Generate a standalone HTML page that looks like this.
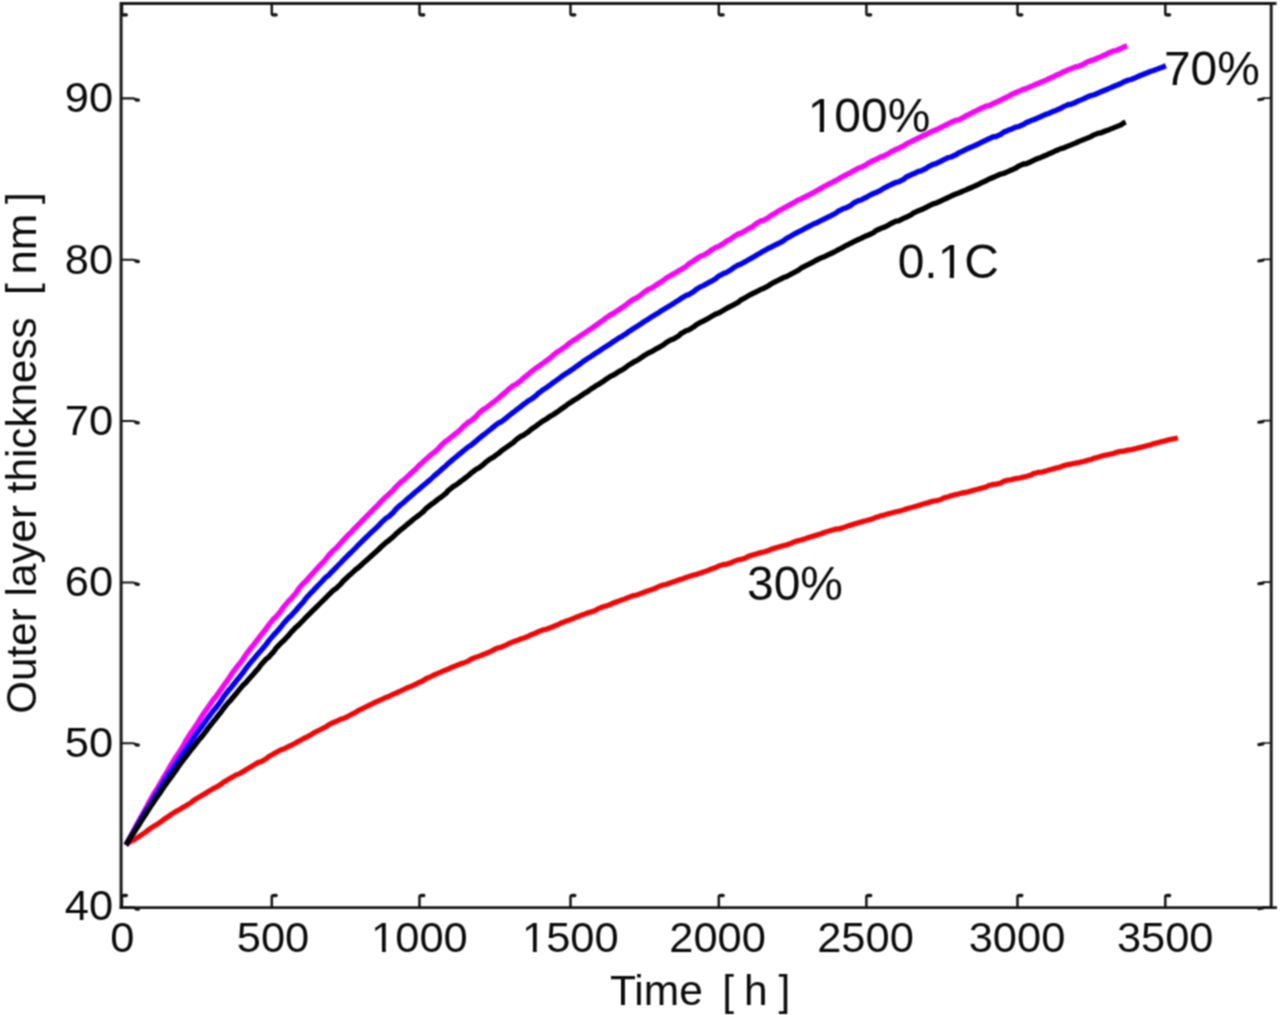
<!DOCTYPE html>
<html lang="en"><head><meta charset="utf-8"><title>Outer layer thickness vs time</title>
<style>html,body{margin:0;padding:0;background:#fff}body{width:1280px;height:1015px;overflow:hidden}svg{display:block}text{font-family:"Liberation Sans",Arial,Helvetica,sans-serif;fill:#0c0c0c}</style></head><body>
<svg width="1280" height="1015" viewBox="0 0 1280 1015">
<defs><filter id="soft" x="0" y="0" width="1280" height="1015" filterUnits="userSpaceOnUse" color-interpolation-filters="sRGB"><feConvolveMatrix order="3" kernelMatrix="1 2 1 2 4 2 1 2 1" divisor="16" edgeMode="duplicate" preserveAlpha="false"/></filter></defs>
<g filter="url(#soft)">
<rect width="1280" height="1015" fill="#fff"/>
<g stroke="#1a1a1a" fill="none" stroke-linecap="butt">
<path stroke-width="3" d="M121.1,908.85 V3.6 H1276.5"/>
<path stroke-width="2.6" d="M119.6,907.6 H1277"/>
<path stroke-width="2.9" d="M1271.2,3.6 V908.85"/>
</g>
<g stroke="#151515" fill="none" stroke-linecap="round" stroke-linejoin="round">
<path stroke-width="2.5" d="M122.0,907.6 V896.8 q0,-1.6 1.6,-1.6 h2.7"/>
<path stroke-width="3.3" d="M123.9,895.5 h2.4"/>
<path stroke-width="2.5" d="M122.0,3.6 V13.4 q0,1.6 1.6,1.6 h2.7"/>
<path stroke-width="3.3" d="M123.9,14.8 h2.4"/>
<path stroke-width="2.5" d="M271.8,907.6 V896.8 q0,-1.6 1.6,-1.6 h2.7"/>
<path stroke-width="3.3" d="M273.7,895.5 h2.4"/>
<path stroke-width="2.5" d="M271.8,3.6 V13.4 q0,1.6 1.6,1.6 h2.7"/>
<path stroke-width="3.3" d="M273.7,14.8 h2.4"/>
<path stroke-width="2.5" d="M419.5,907.6 V896.8 q0,-1.6 1.6,-1.6 h2.7"/>
<path stroke-width="3.3" d="M421.4,895.5 h2.4"/>
<path stroke-width="2.5" d="M419.5,3.6 V13.4 q0,1.6 1.6,1.6 h2.7"/>
<path stroke-width="3.3" d="M421.4,14.8 h2.4"/>
<path stroke-width="2.5" d="M570.5,907.6 V896.8 q0,-1.6 1.6,-1.6 h2.7"/>
<path stroke-width="3.3" d="M572.4,895.5 h2.4"/>
<path stroke-width="2.5" d="M570.5,3.6 V13.4 q0,1.6 1.6,1.6 h2.7"/>
<path stroke-width="3.3" d="M572.4,14.8 h2.4"/>
<path stroke-width="2.5" d="M718.8,907.6 V896.8 q0,-1.6 1.6,-1.6 h2.7"/>
<path stroke-width="3.3" d="M720.7,895.5 h2.4"/>
<path stroke-width="2.5" d="M718.8,3.6 V13.4 q0,1.6 1.6,1.6 h2.7"/>
<path stroke-width="3.3" d="M720.7,14.8 h2.4"/>
<path stroke-width="2.5" d="M866.4,907.6 V896.8 q0,-1.6 1.6,-1.6 h2.7"/>
<path stroke-width="3.3" d="M868.3,895.5 h2.4"/>
<path stroke-width="2.5" d="M866.4,3.6 V13.4 q0,1.6 1.6,1.6 h2.7"/>
<path stroke-width="3.3" d="M868.3,14.8 h2.4"/>
<path stroke-width="2.5" d="M1017.5,907.6 V896.8 q0,-1.6 1.6,-1.6 h2.7"/>
<path stroke-width="3.3" d="M1019.4,895.5 h2.4"/>
<path stroke-width="2.5" d="M1017.5,3.6 V13.4 q0,1.6 1.6,1.6 h2.7"/>
<path stroke-width="3.3" d="M1019.4,14.8 h2.4"/>
<path stroke-width="2.5" d="M1165.3,907.6 V896.8 q0,-1.6 1.6,-1.6 h2.7"/>
<path stroke-width="3.3" d="M1167.2,895.5 h2.4"/>
<path stroke-width="2.5" d="M1165.3,3.6 V13.4 q0,1.6 1.6,1.6 h2.7"/>
<path stroke-width="3.3" d="M1167.2,14.8 h2.4"/>
<path stroke-width="2.1" d="M121.1,98.4 H132.8 q2,0 2.9,1 l2.6,0.7"/>
<path stroke-width="3.3" d="M136,99.9 l2.3,0.3"/>
<path stroke-width="1.7" d="M1271.2,98.1 H1263.4"/>
<path stroke-width="3.1" d="M1263,99.0 L1258.8,99.7"/>
<path stroke-width="2.1" d="M121.1,259.7 H132.8 q2,0 2.9,1 l2.6,0.7"/>
<path stroke-width="3.3" d="M136,261.2 l2.3,0.3"/>
<path stroke-width="1.7" d="M1271.2,259.4 H1263.4"/>
<path stroke-width="3.1" d="M1263,260.3 L1258.8,261.0"/>
<path stroke-width="2.1" d="M121.1,421.0 H132.8 q2,0 2.9,1 l2.6,0.7"/>
<path stroke-width="3.3" d="M136,422.5 l2.3,0.3"/>
<path stroke-width="1.7" d="M1271.2,420.7 H1263.4"/>
<path stroke-width="3.1" d="M1263,421.6 L1258.8,422.3"/>
<path stroke-width="2.1" d="M121.1,582.5 H132.8 q2,0 2.9,1 l2.6,0.7"/>
<path stroke-width="3.3" d="M136,584.0 l2.3,0.3"/>
<path stroke-width="1.7" d="M1271.2,582.2 H1263.4"/>
<path stroke-width="3.1" d="M1263,583.1 L1258.8,583.8"/>
<path stroke-width="2.1" d="M121.1,743.3 H132.8 q2,0 2.9,1 l2.6,0.7"/>
<path stroke-width="3.3" d="M136,744.8 l2.3,0.3"/>
<path stroke-width="1.7" d="M1271.2,743.0 H1263.4"/>
<path stroke-width="3.1" d="M1263,743.9 L1258.8,744.6"/>
<path stroke-width="2.1" d="M121.1,907.4 H132.8 q2,0 2.9,1 l2.6,0.7"/>
<path stroke-width="3.3" d="M136,908.9 l2.3,0.3"/>
<path stroke-width="1.7" d="M1271.2,907.1 H1263.4"/>
<path stroke-width="3.1" d="M1263,908.0 L1258.8,908.7"/>
</g>
<g fill="none" stroke-linecap="butt" stroke-linejoin="round">
<path stroke="#ff0000" stroke-width="5.1" d="M126.0,845.0 L128.5,842.9 L131.0,841.2 L133.5,840.2 L136.0,838.5 L138.5,836.8 L141.0,835.2 L143.5,833.5 L146.0,831.8 L148.5,829.7 L151.0,828.0 L153.5,826.3 L156.0,825.0 L158.5,823.3 L161.0,821.7 L163.5,819.6 L166.0,818.0 L168.5,816.4 L171.0,814.5 L173.5,812.9 L176.0,811.3 L178.5,810.2 L181.0,808.6 L183.5,807.0 L186.0,805.7 L188.5,804.1 L191.0,802.6 L193.5,800.5 L196.0,798.9 L198.5,797.4 L201.0,796.0 L203.5,794.5 L206.0,793.0 L208.5,791.4 L211.0,789.9 L213.5,788.4 L216.0,787.2 L218.5,785.8 L221.0,784.3 L223.5,782.2 L226.0,780.7 L228.5,779.3 L231.0,777.8 L233.5,776.4 L236.0,774.9 L238.5,774.1 L241.0,772.7 L243.5,771.3 L246.0,769.6 L248.5,768.2 L251.0,766.8 L253.5,765.1 L256.0,763.7 L258.5,762.3 L261.0,761.7 L263.5,760.3 L266.0,758.9 L268.5,756.8 L271.0,755.4 L273.5,754.0 L276.0,752.4 L278.5,751.1 L281.0,749.7 L283.5,749.1 L286.0,747.7 L288.5,746.4 L291.0,745.4 L293.5,744.1 L296.0,742.7 L298.5,741.2 L301.0,739.9 L303.5,738.6 L306.0,737.4 L308.5,736.1 L311.0,734.8 L313.5,733.0 L316.0,731.7 L318.5,730.5 L321.0,729.3 L323.5,728.0 L326.0,726.7 L328.5,724.9 L331.0,723.6 L333.5,722.4 L336.0,721.5 L338.5,720.2 L341.0,719.0 L343.5,718.5 L346.0,717.2 L348.5,716.0 L351.0,714.6 L353.5,713.4 L356.0,712.1 L358.5,710.4 L361.0,709.2 L363.5,708.0 L366.0,706.8 L368.5,705.6 L371.0,704.4 L373.5,703.1 L376.0,701.9 L378.5,700.8 L381.0,699.7 L383.5,698.5 L386.0,697.4 L388.5,696.5 L391.0,695.3 L393.5,694.1 L396.0,693.1 L398.5,691.9 L401.0,690.7 L403.5,689.5 L406.0,688.4 L408.5,687.2 L411.0,686.4 L413.5,685.2 L416.0,684.1 L418.5,682.7 L421.0,681.6 L423.5,680.4 L426.0,678.7 L428.5,677.6 L431.0,676.5 L433.5,675.2 L436.0,674.1 L438.5,673.0 L441.0,672.0 L443.5,670.9 L446.0,669.8 L448.5,668.8 L451.0,667.7 L453.5,666.6 L456.0,665.7 L458.5,664.7 L461.0,663.6 L463.5,663.0 L466.0,662.0 L468.5,660.9 L471.0,659.2 L473.5,658.2 L476.0,657.1 L478.5,656.4 L481.0,655.4 L483.5,654.3 L486.0,653.4 L488.5,652.4 L491.0,651.4 L493.5,649.8 L496.0,648.7 L498.5,647.7 L501.0,647.2 L503.5,646.2 L506.0,645.1 L508.5,643.7 L511.0,642.6 L513.5,641.6 L516.0,640.8 L518.5,639.8 L521.0,638.8 L523.5,638.1 L526.0,637.1 L528.5,636.1 L531.0,634.8 L533.5,633.8 L536.0,632.8 L538.5,631.6 L541.0,630.7 L543.5,629.7 L546.0,629.3 L548.5,628.3 L551.0,627.3 L553.5,626.4 L556.0,625.4 L558.5,624.4 L561.0,623.0 L563.5,622.1 L566.0,621.1 L568.5,620.3 L571.0,619.4 L573.5,618.4 L576.0,617.2 L578.5,616.3 L581.0,615.3 L583.5,614.5 L586.0,613.5 L588.5,612.6 L591.0,612.0 L593.5,611.1 L596.0,610.1 L598.5,608.5 L601.0,607.5 L603.5,606.6 L606.0,606.0 L608.5,605.1 L611.0,604.1 L613.5,602.9 L616.0,602.0 L618.5,601.1 L621.0,600.2 L623.5,599.3 L626.0,598.4 L628.5,597.3 L631.0,596.4 L633.5,595.5 L636.0,595.2 L638.5,594.3 L641.0,593.4 L643.5,592.4 L646.0,591.5 L648.5,590.6 L651.0,589.8 L653.5,588.9 L656.0,588.0 L658.5,586.6 L661.0,585.7 L663.5,584.8 L666.0,584.4 L668.5,583.5 L671.0,582.6 L673.5,581.8 L676.0,580.9 L678.5,580.0 L681.0,579.2 L683.5,578.4 L686.0,577.5 L688.5,576.6 L691.0,575.8 L693.5,574.9 L696.0,574.5 L698.5,573.6 L701.0,572.8 L703.5,571.9 L706.0,571.1 L708.5,570.2 L711.0,569.1 L713.5,568.2 L716.0,567.4 L718.5,566.1 L721.0,565.3 L723.5,564.4 L726.0,564.4 L728.5,563.5 L731.0,562.7 L733.5,561.4 L736.0,560.6 L738.5,559.7 L741.0,559.4 L743.5,558.6 L746.0,557.8 L748.5,556.3 L751.0,555.5 L753.5,554.7 L756.0,554.1 L758.5,553.3 L761.0,552.5 L763.5,552.1 L766.0,551.3 L768.5,550.5 L771.0,549.3 L773.5,548.5 L776.0,547.7 L778.5,547.1 L781.0,546.3 L783.5,545.6 L786.0,545.0 L788.5,544.2 L791.0,543.4 L793.5,542.1 L796.0,541.3 L798.5,540.5 L801.0,540.0 L803.5,539.2 L806.0,538.4 L808.5,537.5 L811.0,536.8 L813.5,536.0 L816.0,535.3 L818.5,534.5 L821.0,533.8 L823.5,532.7 L826.0,531.9 L828.5,531.1 L831.0,530.4 L833.5,529.7 L836.0,528.9 L838.5,529.0 L841.0,528.2 L843.5,527.5 L846.0,526.5 L848.5,525.8 L851.0,525.0 L853.5,524.2 L856.0,523.4 L858.5,522.7 L861.0,522.0 L863.5,521.3 L866.0,520.6 L868.5,519.9 L871.0,519.2 L873.5,518.4 L876.0,517.3 L878.5,516.6 L881.0,515.8 L883.5,515.2 L886.0,514.4 L888.5,513.7 L891.0,513.1 L893.5,512.4 L896.0,511.7 L898.5,511.3 L901.0,510.6 L903.5,509.9 L906.0,509.0 L908.5,508.3 L911.0,507.6 L913.5,506.9 L916.0,506.2 L918.5,505.5 L921.0,504.6 L923.5,503.9 L926.0,503.2 L928.5,502.5 L931.0,501.7 L933.5,501.0 L936.0,500.8 L938.5,500.1 L941.0,499.4 L943.5,498.0 L946.0,497.3 L948.5,496.6 L951.0,495.8 L953.5,495.1 L956.0,494.5 L958.5,493.9 L961.0,493.2 L963.5,492.6 L966.0,492.4 L968.5,491.7 L971.0,491.0 L973.5,490.3 L976.0,489.6 L978.5,488.9 L981.0,488.3 L983.5,487.6 L986.0,487.0 L988.5,485.6 L991.0,485.0 L993.5,484.3 L996.0,484.2 L998.5,483.6 L1001.0,482.9 L1003.5,481.3 L1006.0,480.6 L1008.5,480.0 L1011.0,479.7 L1013.5,479.0 L1016.0,478.4 L1018.5,478.3 L1021.0,477.6 L1023.5,477.0 L1026.0,476.4 L1028.5,475.7 L1031.0,475.1 L1033.5,473.5 L1036.0,472.9 L1038.5,472.2 L1041.0,472.3 L1043.5,471.6 L1046.0,471.0 L1048.5,470.0 L1051.0,469.4 L1053.5,468.7 L1056.0,468.1 L1058.5,467.5 L1061.0,466.8 L1063.5,465.7 L1066.0,465.0 L1068.5,464.4 L1071.0,464.1 L1073.5,463.5 L1076.0,462.9 L1078.5,462.7 L1081.0,462.0 L1083.5,461.4 L1086.0,460.7 L1088.5,460.1 L1091.0,459.5 L1093.5,458.3 L1096.0,457.7 L1098.5,457.1 L1101.0,456.2 L1103.5,455.6 L1106.0,455.0 L1108.5,454.6 L1111.0,454.0 L1113.5,453.4 L1116.0,452.5 L1118.5,451.8 L1121.0,451.2 L1123.5,451.1 L1126.0,450.5 L1128.5,449.9 L1131.0,449.7 L1133.5,449.1 L1136.0,448.5 L1138.5,447.8 L1141.0,447.2 L1143.5,446.6 L1146.0,445.9 L1148.5,445.3 L1151.0,444.7 L1153.5,443.7 L1156.0,443.1 L1158.5,442.5 L1161.0,441.8 L1163.5,441.2 L1166.0,440.6 L1168.5,439.8 L1171.0,439.3 L1173.5,438.7 L1176.0,438.3 L1177.9,437.9"/>
<path stroke="#ff00ff" stroke-width="5.3" d="M126.0,845.0 L128.5,840.3 L131.0,835.6 L133.5,830.7 L136.0,826.1 L138.5,821.5 L141.0,817.1 L143.5,812.6 L146.0,808.1 L148.5,803.1 L151.0,798.7 L153.5,794.3 L156.0,790.6 L158.5,786.3 L161.0,782.0 L163.5,777.7 L166.0,773.5 L168.5,769.3 L171.0,764.8 L173.5,760.8 L176.0,756.7 L178.5,753.3 L181.0,749.3 L183.5,745.4 L186.0,740.5 L188.5,736.6 L191.0,732.7 L193.5,729.2 L196.0,725.4 L198.5,721.6 L201.0,717.4 L203.5,713.7 L206.0,710.0 L208.5,706.6 L211.0,702.9 L213.5,699.3 L216.0,696.5 L218.5,692.9 L221.0,689.4 L223.5,685.8 L226.0,682.3 L228.5,678.8 L231.0,674.8 L233.5,671.4 L236.0,668.0 L238.5,665.1 L241.0,661.8 L243.5,658.4 L246.0,654.4 L248.5,651.1 L251.0,647.8 L253.5,644.9 L256.0,641.7 L258.5,638.4 L261.0,635.1 L263.5,632.0 L266.0,628.8 L268.5,625.2 L271.0,622.1 L273.5,619.0 L276.0,616.9 L278.5,613.9 L281.0,610.8 L283.5,607.1 L286.0,604.1 L288.5,601.1 L291.0,598.7 L293.5,595.8 L296.0,592.9 L298.5,589.0 L301.0,586.1 L303.5,583.3 L306.0,581.0 L308.5,578.1 L311.0,575.3 L313.5,572.5 L316.0,569.7 L318.5,566.9 L321.0,564.4 L323.5,561.7 L326.0,558.9 L328.5,555.6 L331.0,552.9 L333.5,550.2 L336.0,548.2 L338.5,545.5 L341.0,542.8 L343.5,540.0 L346.0,537.3 L348.5,534.7 L351.0,532.3 L353.5,529.7 L356.0,527.1 L358.5,524.5 L361.0,522.0 L363.5,519.4 L366.0,516.9 L368.5,514.4 L371.0,511.9 L373.5,509.2 L376.0,506.8 L378.5,504.3 L381.0,501.6 L383.5,499.2 L386.0,496.7 L388.5,494.6 L391.0,492.2 L393.5,489.8 L396.0,486.8 L398.5,484.4 L401.0,482.0 L403.5,480.3 L406.0,477.9 L408.5,475.6 L411.0,473.3 L413.5,471.0 L416.0,468.7 L418.5,466.0 L421.0,463.7 L423.5,461.4 L426.0,459.1 L428.5,456.9 L431.0,454.6 L433.5,452.9 L436.0,450.7 L438.5,448.5 L441.0,445.5 L443.5,443.3 L446.0,441.1 L448.5,439.5 L451.0,437.3 L453.5,435.2 L456.0,433.4 L458.5,431.2 L461.0,429.1 L463.5,426.3 L466.0,424.2 L468.5,422.1 L471.0,420.7 L473.5,418.6 L476.0,416.6 L478.5,413.5 L481.0,411.4 L483.5,409.4 L486.0,408.0 L488.5,406.0 L491.0,404.0 L493.5,402.2 L496.0,400.2 L498.5,398.2 L501.0,395.9 L503.5,393.9 L506.0,391.9 L508.5,389.3 L511.0,387.3 L513.5,385.4 L516.0,384.4 L518.5,382.4 L521.0,380.5 L523.5,378.1 L526.0,376.1 L528.5,374.2 L531.0,371.9 L533.5,370.0 L536.0,368.1 L538.5,366.6 L541.0,364.7 L543.5,362.9 L546.0,361.0 L548.5,359.2 L551.0,357.3 L553.5,354.9 L556.0,353.0 L558.5,351.2 L561.0,349.7 L563.5,347.9 L566.0,346.1 L568.5,344.0 L571.0,342.2 L573.5,340.4 L576.0,339.0 L578.5,337.2 L581.0,335.4 L583.5,333.8 L586.0,332.1 L588.5,330.3 L591.0,328.8 L593.5,327.0 L596.0,325.3 L598.5,323.4 L601.0,321.6 L603.5,319.9 L606.0,317.9 L608.5,316.2 L611.0,314.5 L613.5,313.3 L616.0,311.6 L618.5,310.0 L621.0,308.3 L623.5,306.6 L626.0,305.0 L628.5,302.6 L631.0,300.9 L633.5,299.3 L636.0,298.2 L638.5,296.6 L641.0,294.9 L643.5,292.6 L646.0,290.9 L648.5,289.3 L651.0,288.4 L653.5,286.8 L656.0,285.1 L658.5,283.5 L661.0,281.9 L663.5,280.3 L666.0,278.3 L668.5,276.8 L671.0,275.2 L673.5,274.0 L676.0,272.4 L678.5,270.9 L681.0,269.5 L683.5,267.9 L686.0,266.4 L688.5,264.1 L691.0,262.5 L693.5,261.0 L696.0,259.2 L698.5,257.6 L701.0,256.1 L703.5,255.3 L706.0,253.8 L708.5,252.3 L711.0,250.2 L713.5,248.7 L716.0,247.2 L718.5,246.4 L721.0,244.9 L723.5,243.5 L726.0,241.6 L728.5,240.1 L731.0,238.7 L733.5,236.7 L736.0,235.3 L738.5,233.8 L741.0,233.1 L743.5,231.7 L746.0,230.2 L748.5,228.8 L751.0,227.4 L753.5,225.9 L756.0,223.8 L758.5,222.3 L761.0,220.9 L763.5,220.3 L766.0,218.9 L768.5,217.4 L771.0,215.5 L773.5,214.1 L776.0,212.7 L778.5,211.0 L781.0,209.6 L783.5,208.2 L786.0,206.9 L788.5,205.5 L791.0,204.1 L793.5,202.7 L796.0,201.3 L798.5,199.9 L801.0,199.0 L803.5,197.6 L806.0,196.3 L808.5,195.2 L811.0,193.9 L813.5,192.5 L816.0,191.1 L818.5,189.7 L821.0,188.4 L823.5,186.8 L826.0,185.5 L828.5,184.2 L831.0,183.0 L833.5,181.7 L836.0,180.4 L838.5,178.9 L841.0,177.5 L843.5,176.2 L846.0,174.9 L848.5,173.6 L851.0,172.3 L853.5,170.8 L856.0,169.5 L858.5,168.2 L861.0,167.3 L863.5,166.0 L866.0,164.8 L868.5,163.0 L871.0,161.7 L873.5,160.5 L876.0,159.3 L878.5,158.1 L881.0,156.8 L883.5,156.1 L886.0,154.8 L888.5,153.6 L891.0,151.8 L893.5,150.6 L896.0,149.3 L898.5,148.4 L901.0,147.1 L903.5,145.9 L906.0,144.2 L908.5,142.9 L911.0,141.7 L913.5,140.4 L916.0,139.2 L918.5,138.0 L921.0,136.7 L923.5,135.5 L926.0,134.3 L928.5,133.1 L931.0,131.9 L933.5,130.7 L936.0,129.8 L938.5,128.6 L941.0,127.4 L943.5,126.1 L946.0,124.9 L948.5,123.7 L951.0,122.4 L953.5,121.3 L956.0,120.1 L958.5,119.8 L961.0,118.6 L963.5,117.4 L966.0,115.8 L968.5,114.7 L971.0,113.5 L973.5,112.0 L976.0,110.9 L978.5,109.7 L981.0,108.4 L983.5,107.3 L986.0,106.1 L988.5,105.7 L991.0,104.6 L993.5,103.4 L996.0,102.3 L998.5,101.1 L1001.0,100.0 L1003.5,98.6 L1006.0,97.5 L1008.5,96.4 L1011.0,94.7 L1013.5,93.6 L1016.0,92.5 L1018.5,91.6 L1021.0,90.4 L1023.5,89.3 L1026.0,88.6 L1028.5,87.5 L1031.0,86.4 L1033.5,85.4 L1036.0,84.3 L1038.5,83.2 L1041.0,82.2 L1043.5,81.1 L1046.0,80.1 L1048.5,78.9 L1051.0,77.8 L1053.5,76.7 L1056.0,75.2 L1058.5,74.2 L1061.0,73.1 L1063.5,71.7 L1066.0,70.7 L1068.5,69.6 L1071.0,68.7 L1073.5,67.6 L1076.0,66.6 L1078.5,66.3 L1081.0,65.3 L1083.5,64.2 L1086.0,62.6 L1088.5,61.5 L1091.0,60.5 L1093.5,59.7 L1096.0,58.7 L1098.5,57.6 L1101.0,56.6 L1103.5,55.5 L1106.0,54.5 L1108.5,53.0 L1111.0,52.0 L1113.5,50.9 L1116.0,50.5 L1118.5,49.5 L1121.0,48.4 L1123.5,47.3 L1126.0,46.2 L1127.3,45.7"/>
<path stroke="#0000ff" stroke-width="5.3" d="M126.0,845.0 L128.5,840.9 L131.0,836.5 L133.5,832.0 L136.0,827.8 L138.5,823.5 L141.0,819.0 L143.5,814.9 L146.0,810.7 L148.5,807.1 L151.0,803.1 L153.5,799.0 L156.0,794.7 L158.5,790.8 L161.0,786.8 L163.5,782.5 L166.0,778.6 L168.5,774.8 L171.0,771.2 L173.5,767.4 L176.0,763.7 L178.5,759.9 L181.0,756.2 L183.5,752.6 L186.0,748.8 L188.5,745.2 L191.0,741.6 L193.5,737.7 L196.0,734.2 L198.5,730.7 L201.0,727.5 L203.5,724.0 L206.0,720.5 L208.5,717.1 L211.0,713.7 L213.5,710.4 L216.0,707.6 L218.5,704.2 L221.0,700.9 L223.5,696.9 L226.0,693.6 L228.5,690.4 L231.0,687.7 L233.5,684.5 L236.0,681.3 L238.5,678.3 L241.0,675.1 L243.5,672.0 L246.0,668.3 L248.5,665.2 L251.0,662.1 L253.5,659.3 L256.0,656.3 L258.5,653.3 L261.0,650.5 L263.5,647.6 L266.0,644.6 L268.5,641.1 L271.0,638.1 L273.5,635.2 L276.0,632.6 L278.5,629.7 L281.0,626.8 L283.5,623.5 L286.0,620.7 L288.5,617.9 L291.0,615.8 L293.5,613.0 L296.0,610.2 L298.5,607.2 L301.0,604.4 L303.5,601.7 L306.0,598.2 L308.5,595.5 L311.0,592.8 L313.5,590.3 L316.0,587.6 L318.5,585.0 L321.0,582.5 L323.5,579.8 L326.0,577.2 L328.5,575.3 L331.0,572.7 L333.5,570.2 L336.0,567.6 L338.5,565.0 L341.0,562.5 L343.5,559.8 L346.0,557.3 L348.5,554.8 L351.0,552.5 L353.5,550.0 L356.0,547.5 L358.5,544.8 L361.0,542.4 L363.5,539.9 L366.0,537.5 L368.5,535.1 L371.0,532.7 L373.5,530.4 L376.0,528.1 L378.5,525.7 L381.0,522.9 L383.5,520.6 L386.0,518.2 L388.5,516.8 L391.0,514.5 L393.5,512.2 L396.0,509.0 L398.5,506.7 L401.0,504.5 L403.5,502.6 L406.0,500.3 L408.5,498.1 L411.0,495.9 L413.5,493.7 L416.0,491.5 L418.5,489.6 L421.0,487.4 L423.5,485.3 L426.0,483.3 L428.5,481.1 L431.0,479.0 L433.5,476.5 L436.0,474.4 L438.5,472.3 L441.0,469.9 L443.5,467.7 L446.0,465.7 L448.5,463.2 L451.0,461.1 L453.5,459.0 L456.0,457.0 L458.5,454.9 L461.0,452.9 L463.5,450.8 L466.0,448.7 L468.5,446.7 L471.0,445.2 L473.5,443.1 L476.0,441.1 L478.5,438.9 L481.0,436.9 L483.5,434.9 L486.0,433.0 L488.5,431.0 L491.0,429.0 L493.5,426.9 L496.0,424.9 L498.5,423.0 L501.0,422.0 L503.5,420.1 L506.0,418.2 L508.5,416.0 L511.0,414.1 L513.5,412.2 L516.0,410.2 L518.5,408.3 L521.0,406.5 L523.5,404.4 L526.0,402.6 L528.5,400.7 L531.0,399.3 L533.5,397.5 L536.0,395.7 L538.5,393.1 L541.0,391.3 L543.5,389.4 L546.0,387.9 L548.5,386.1 L551.0,384.3 L553.5,382.4 L556.0,380.7 L558.5,378.9 L561.0,377.0 L563.5,375.2 L566.0,373.5 L568.5,372.0 L571.0,370.3 L573.5,368.6 L576.0,366.7 L578.5,365.0 L581.0,363.3 L583.5,361.3 L586.0,359.6 L588.5,357.9 L591.0,356.4 L593.5,354.7 L596.0,353.0 L598.5,351.5 L601.0,349.8 L603.5,348.1 L606.0,346.6 L608.5,345.0 L611.0,343.3 L613.5,341.5 L616.0,339.9 L618.5,338.2 L621.0,336.9 L623.5,335.3 L626.0,333.7 L628.5,331.8 L631.0,330.2 L633.5,328.6 L636.0,327.0 L638.5,325.4 L641.0,323.8 L643.5,322.0 L646.0,320.5 L648.5,318.9 L651.0,317.3 L653.5,315.8 L656.0,314.2 L658.5,312.7 L661.0,311.1 L663.5,309.6 L666.0,308.0 L668.5,306.5 L671.0,305.0 L673.5,303.4 L676.0,301.8 L678.5,300.3 L681.0,298.5 L683.5,296.9 L686.0,295.4 L688.5,294.7 L691.0,293.2 L693.5,291.7 L696.0,289.6 L698.5,288.1 L701.0,286.6 L703.5,285.6 L706.0,284.1 L708.5,282.7 L711.0,281.4 L713.5,279.9 L716.0,278.4 L718.5,276.3 L721.0,274.9 L723.5,273.4 L726.0,272.7 L728.5,271.3 L731.0,269.8 L733.5,267.7 L736.0,266.3 L738.5,264.9 L741.0,264.1 L743.5,262.6 L746.0,261.2 L748.5,259.8 L751.0,258.4 L753.5,257.0 L756.0,255.4 L758.5,254.0 L761.0,252.6 L763.5,251.1 L766.0,249.7 L768.5,248.3 L771.0,247.3 L773.5,245.9 L776.0,244.5 L778.5,243.5 L781.0,242.1 L783.5,240.8 L786.0,238.7 L788.5,237.3 L791.0,236.0 L793.5,234.5 L796.0,233.1 L798.5,231.8 L801.0,230.6 L803.5,229.3 L806.0,227.9 L808.5,226.6 L811.0,225.3 L813.5,224.0 L816.0,223.1 L818.5,221.8 L821.0,220.5 L823.5,219.4 L826.0,218.1 L828.5,216.8 L831.0,215.6 L833.5,214.3 L836.0,213.0 L838.5,211.0 L841.0,209.8 L843.5,208.5 L846.0,207.9 L848.5,206.6 L851.0,205.3 L853.5,203.2 L856.0,201.9 L858.5,200.6 L861.0,200.0 L863.5,198.7 L866.0,197.5 L868.5,196.0 L871.0,194.7 L873.5,193.5 L876.0,192.6 L878.5,191.3 L881.0,190.1 L883.5,188.4 L886.0,187.2 L888.5,185.9 L891.0,184.7 L893.5,183.5 L896.0,182.3 L898.5,181.9 L901.0,180.7 L903.5,179.4 L906.0,177.2 L908.5,176.0 L911.0,174.8 L913.5,173.8 L916.0,172.6 L918.5,171.4 L921.0,170.9 L923.5,169.7 L926.0,168.5 L928.5,166.6 L931.0,165.4 L933.5,164.3 L936.0,163.6 L938.5,162.4 L941.0,161.3 L943.5,159.8 L946.0,158.6 L948.5,157.5 L951.0,157.0 L953.5,155.8 L956.0,154.7 L958.5,153.0 L961.0,151.9 L963.5,150.8 L966.0,149.4 L968.5,148.3 L971.0,147.2 L973.5,146.1 L976.0,145.0 L978.5,143.9 L981.0,142.5 L983.5,141.3 L986.0,140.2 L988.5,139.0 L991.0,137.8 L993.5,136.7 L996.0,136.5 L998.5,135.4 L1001.0,134.3 L1003.5,132.3 L1006.0,131.2 L1008.5,130.1 L1011.0,129.2 L1013.5,128.1 L1016.0,127.0 L1018.5,126.6 L1021.0,125.5 L1023.5,124.4 L1026.0,122.8 L1028.5,121.7 L1031.0,120.6 L1033.5,119.8 L1036.0,118.7 L1038.5,117.6 L1041.0,116.5 L1043.5,115.4 L1046.0,114.3 L1048.5,113.5 L1051.0,112.4 L1053.5,111.3 L1056.0,110.4 L1058.5,109.3 L1061.0,108.3 L1063.5,106.6 L1066.0,105.6 L1068.5,104.5 L1071.0,104.3 L1073.5,103.3 L1076.0,102.2 L1078.5,100.9 L1081.0,99.9 L1083.5,98.9 L1086.0,97.6 L1088.5,96.5 L1091.0,95.5 L1093.5,95.0 L1096.0,94.0 L1098.5,92.9 L1101.0,91.8 L1103.5,90.8 L1106.0,89.8 L1108.5,88.6 L1111.0,87.6 L1113.5,86.5 L1116.0,85.5 L1118.5,84.5 L1121.0,83.5 L1123.5,82.0 L1126.0,81.0 L1128.5,80.0 L1131.0,79.5 L1133.5,78.5 L1136.0,77.5 L1138.5,76.2 L1141.0,75.2 L1143.5,74.2 L1146.0,73.2 L1148.5,72.2 L1151.0,71.2 L1153.5,70.5 L1156.0,69.6 L1158.5,68.6 L1161.0,67.7 L1163.5,66.7 L1165.9,65.8"/>
<path stroke="#000000" stroke-width="5.3" d="M126.0,845.0 L128.5,840.6 L131.0,836.6 L133.5,833.3 L136.0,829.4 L138.5,825.5 L141.0,821.4 L143.5,817.6 L146.0,813.8 L148.5,809.7 L151.0,805.9 L153.5,802.2 L156.0,798.6 L158.5,795.0 L161.0,791.4 L163.5,787.6 L166.0,784.0 L168.5,780.5 L171.0,777.1 L173.5,773.7 L176.0,770.2 L178.5,766.4 L181.0,763.0 L183.5,759.6 L186.0,756.5 L188.5,753.1 L191.0,749.8 L193.5,746.9 L196.0,743.6 L198.5,740.3 L201.0,737.5 L203.5,734.3 L206.0,731.1 L208.5,727.6 L211.0,724.5 L213.5,721.4 L216.0,718.3 L218.5,715.2 L221.0,712.1 L223.5,708.5 L226.0,705.4 L228.5,702.4 L231.0,699.8 L233.5,696.8 L236.0,693.8 L238.5,690.6 L241.0,687.6 L243.5,684.7 L246.0,682.5 L248.5,679.6 L251.0,676.8 L253.5,674.0 L256.0,671.1 L258.5,668.3 L261.0,664.8 L263.5,662.0 L266.0,659.2 L268.5,657.4 L271.0,654.6 L273.5,651.9 L276.0,648.3 L278.5,645.6 L281.0,643.0 L283.5,640.8 L286.0,638.2 L288.5,635.5 L291.0,632.4 L293.5,629.8 L296.0,627.2 L298.5,625.1 L301.0,622.5 L303.5,620.0 L306.0,617.3 L308.5,614.8 L311.0,612.3 L313.5,609.9 L316.0,607.5 L318.5,605.0 L321.0,602.5 L323.5,600.1 L326.0,597.6 L328.5,595.0 L331.0,592.6 L333.5,590.2 L336.0,588.6 L338.5,586.2 L341.0,583.8 L343.5,580.8 L346.0,578.5 L348.5,576.1 L351.0,573.9 L353.5,571.6 L356.0,569.3 L358.5,567.5 L361.0,565.2 L363.5,562.9 L366.0,560.7 L368.5,558.5 L371.0,556.2 L373.5,554.0 L376.0,551.8 L378.5,549.6 L381.0,546.9 L383.5,544.7 L386.0,542.5 L388.5,540.8 L391.0,538.6 L393.5,536.5 L396.0,533.9 L398.5,531.8 L401.0,529.6 L403.5,527.6 L406.0,525.5 L408.5,523.4 L411.0,521.4 L413.5,519.3 L416.0,517.3 L418.5,515.5 L421.0,513.5 L423.5,511.4 L426.0,508.6 L428.5,506.6 L431.0,504.6 L433.5,503.0 L436.0,500.9 L438.5,498.9 L441.0,497.2 L443.5,495.2 L446.0,493.3 L448.5,490.3 L451.0,488.4 L453.5,486.4 L456.0,485.0 L458.5,483.1 L461.0,481.1 L463.5,479.4 L466.0,477.4 L468.5,475.5 L471.0,473.2 L473.5,471.3 L476.0,469.4 L478.5,468.2 L481.0,466.3 L483.5,464.4 L486.0,462.0 L488.5,460.1 L491.0,458.3 L493.5,457.1 L496.0,455.2 L498.5,453.4 L501.0,451.2 L503.5,449.4 L506.0,447.6 L508.5,445.9 L511.0,444.1 L513.5,442.3 L516.0,439.8 L518.5,438.0 L521.0,436.3 L523.5,435.2 L526.0,433.4 L528.5,431.7 L531.0,429.5 L533.5,427.8 L536.0,426.1 L538.5,424.1 L541.0,422.3 L543.5,420.6 L546.0,419.2 L548.5,417.5 L551.0,415.8 L553.5,414.5 L556.0,412.8 L558.5,411.1 L561.0,409.2 L563.5,407.5 L566.0,405.8 L568.5,403.8 L571.0,402.2 L573.5,400.5 L576.0,399.0 L578.5,397.4 L581.0,395.7 L583.5,394.1 L586.0,392.5 L588.5,390.9 L591.0,389.0 L593.5,387.4 L596.0,385.8 L598.5,384.4 L601.0,382.8 L603.5,381.2 L606.0,379.3 L608.5,377.7 L611.0,376.1 L613.5,375.0 L616.0,373.4 L618.5,371.8 L621.0,370.4 L623.5,368.9 L626.0,367.3 L628.5,365.3 L631.0,363.8 L633.5,362.2 L636.0,360.9 L638.5,359.4 L641.0,357.8 L643.5,356.0 L646.0,354.5 L648.5,353.0 L651.0,351.9 L653.5,350.4 L656.0,348.9 L658.5,347.8 L661.0,346.3 L663.5,344.8 L666.0,342.7 L668.5,341.2 L671.0,339.8 L673.5,339.1 L676.0,337.6 L678.5,336.1 L681.0,333.6 L683.5,332.2 L686.0,330.7 L688.5,330.0 L691.0,328.6 L693.5,327.1 L696.0,325.0 L698.5,323.5 L701.0,322.1 L703.5,321.0 L706.0,319.6 L708.5,318.2 L711.0,316.7 L713.5,315.3 L716.0,313.9 L718.5,313.1 L721.0,311.7 L723.5,310.3 L726.0,308.8 L728.5,307.4 L731.0,306.1 L733.5,304.9 L736.0,303.5 L738.5,302.1 L741.0,299.9 L743.5,298.6 L746.0,297.2 L748.5,295.8 L751.0,294.4 L753.5,293.1 L756.0,292.0 L758.5,290.7 L761.0,289.3 L763.5,288.4 L766.0,287.1 L768.5,285.7 L771.0,284.0 L773.5,282.7 L776.0,281.4 L778.5,280.2 L781.0,278.9 L783.5,277.6 L786.0,276.8 L788.5,275.5 L791.0,274.2 L793.5,272.8 L796.0,271.5 L798.5,270.2 L801.0,268.2 L803.5,266.9 L806.0,265.6 L808.5,264.4 L811.0,263.1 L813.5,261.8 L816.0,260.4 L818.5,259.1 L821.0,257.9 L823.5,257.1 L826.0,255.9 L828.5,254.6 L831.0,253.5 L833.5,252.3 L836.0,251.0 L838.5,249.6 L841.0,248.4 L843.5,247.1 L846.0,245.6 L848.5,244.4 L851.0,243.1 L853.5,241.9 L856.0,240.7 L858.5,239.5 L861.0,238.4 L863.5,237.1 L866.0,235.9 L868.5,235.0 L871.0,233.8 L873.5,232.6 L876.0,230.7 L878.5,229.5 L881.0,228.3 L883.5,227.5 L886.0,226.3 L888.5,225.1 L891.0,223.5 L893.5,222.3 L896.0,221.1 L898.5,220.8 L901.0,219.6 L903.5,218.4 L906.0,217.3 L908.5,216.1 L911.0,214.9 L913.5,213.0 L916.0,211.9 L918.5,210.7 L921.0,209.8 L923.5,208.7 L926.0,207.5 L928.5,206.1 L931.0,204.9 L933.5,203.8 L936.0,203.1 L938.5,202.0 L941.0,200.8 L943.5,199.6 L946.0,198.5 L948.5,197.3 L951.0,196.1 L953.5,195.0 L956.0,193.9 L958.5,193.1 L961.0,192.0 L963.5,190.9 L966.0,189.9 L968.5,188.8 L971.0,187.7 L973.5,186.6 L976.0,185.5 L978.5,184.4 L981.0,183.0 L983.5,181.9 L986.0,180.8 L988.5,179.4 L991.0,178.3 L993.5,177.2 L996.0,176.1 L998.5,175.0 L1001.0,174.0 L1003.5,173.5 L1006.0,172.4 L1008.5,171.4 L1011.0,170.2 L1013.5,169.1 L1016.0,168.0 L1018.5,166.2 L1021.0,165.1 L1023.5,164.0 L1026.0,163.9 L1028.5,162.8 L1031.0,161.8 L1033.5,160.4 L1036.0,159.3 L1038.5,158.3 L1041.0,157.4 L1043.5,156.3 L1046.0,155.3 L1048.5,154.0 L1051.0,153.0 L1053.5,151.9 L1056.0,150.7 L1058.5,149.6 L1061.0,148.6 L1063.5,148.0 L1066.0,146.9 L1068.5,145.9 L1071.0,144.9 L1073.5,143.9 L1076.0,142.9 L1078.5,141.6 L1081.0,140.6 L1083.5,139.6 L1086.0,138.6 L1088.5,137.6 L1091.0,136.6 L1093.5,135.1 L1096.0,134.1 L1098.5,133.1 L1101.0,132.8 L1103.5,131.8 L1106.0,130.8 L1108.5,129.9 L1111.0,128.9 L1113.5,127.9 L1116.0,126.9 L1118.5,125.9 L1121.0,124.9 L1123.5,123.0 L1125.7,122.1"/>
</g>
<text transform="translate(110.22,952.3) scale(1.015,1)" font-size="42.8">0</text>
<text transform="translate(236.76,952.3) scale(1.015,1)" font-size="42.8">500</text>
<text transform="translate(371.08,952.3) scale(1.015,1)" font-size="42.8">1000</text>
<text transform="translate(521.98,952.3) scale(1.015,1)" font-size="42.8">1500</text>
<text transform="translate(669.28,952.3) scale(1.015,1)" font-size="42.8">2000</text>
<text transform="translate(817.18,952.3) scale(1.015,1)" font-size="42.8">2500</text>
<text transform="translate(968.68,952.3) scale(1.015,1)" font-size="42.8">3000</text>
<text transform="translate(1116.88,952.3) scale(1.015,1)" font-size="42.8">3500</text>
<text transform="translate(64.78,112.2) scale(1.015,1)" font-size="42.8">90</text>
<text transform="translate(64.78,273.5) scale(1.015,1)" font-size="42.8">80</text>
<text transform="translate(64.78,434.6) scale(1.015,1)" font-size="42.8">70</text>
<text transform="translate(64.78,595.6) scale(1.015,1)" font-size="42.8">60</text>
<text transform="translate(64.78,757.0) scale(1.015,1)" font-size="42.8">50</text>
<text transform="translate(64.78,920.4) scale(1.015,1)" font-size="42.8">40</text>
<text transform="translate(609.95,1005.0) scale(1.0,1)" font-size="42.5">Time</text>
<text transform="translate(722.27,1005.0) scale(1.0,1)" font-size="42.5">[</text>
<text transform="translate(743.95,1005.0) scale(1.0,1)" font-size="42.5">h</text>
<text transform="translate(778.47,1005.0) scale(1.0,1)" font-size="42.5">]</text>
<text transform="translate(36,713.7) rotate(-90) scale(0.993,1)" font-size="42.5">Outer layer thickness</text>
<text transform="translate(36,295.1) rotate(-90) scale(1.0,1)" font-size="42.5">[</text>
<text transform="translate(36,274.6) rotate(-90) scale(1.033,1)" font-size="42.5">nm</text>
<text transform="translate(36,203.9) rotate(-90) scale(1.0,1)" font-size="42.5">]</text>
<text transform="translate(807.68,131.9) scale(1.008,1)" font-size="47.6">100%</text>
<text transform="translate(1163.94,85.0) scale(1.008,1)" font-size="47.6">70%</text>
<text transform="translate(897.63,277.6) scale(1.008,1)" font-size="47.6">0.1C</text>
<text transform="translate(746.97,600.0) scale(1.008,1)" font-size="47.6">30%</text>
<g fill="#fff">
<rect x="373.75" y="947.60" width="8.25" height="5.80"/>
<rect x="385.84" y="947.60" width="7.91" height="5.80"/>
<rect x="524.65" y="947.60" width="8.25" height="5.80"/>
<rect x="536.74" y="947.60" width="7.91" height="5.80"/>
<rect x="810.64" y="126.84" width="9.11" height="6.16"/>
<rect x="823.99" y="126.84" width="8.74" height="6.16"/>
<rect x="940.59" y="272.54" width="9.11" height="6.16"/>
<rect x="953.95" y="272.54" width="8.74" height="6.16"/>
</g>
</g>
</svg></body></html>
